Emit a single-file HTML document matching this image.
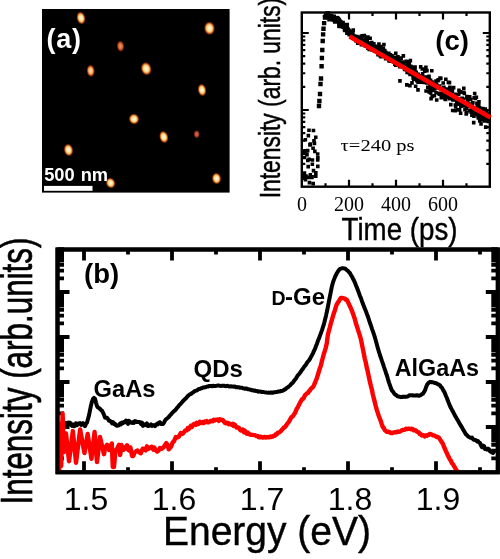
<!DOCTYPE html>
<html><head><meta charset="utf-8"><title>Figure</title>
<style>html,body{margin:0;padding:0;background:#fff;overflow:hidden}svg{display:block}</style>
</head><body><svg width="500" height="559" viewBox="0 0 500 559"><defs><radialGradient id="sb" cx="0.5" cy="0.5" r="0.5"><stop offset="0" stop-color="#fff8dc" stop-opacity="1"/><stop offset="0.3" stop-color="#ffeab0" stop-opacity="1"/><stop offset="0.5" stop-color="#fcc878" stop-opacity="1"/><stop offset="0.64" stop-color="#e08030" stop-opacity="1"/><stop offset="0.78" stop-color="#963a0c" stop-opacity="0.9"/><stop offset="0.9" stop-color="#481200" stop-opacity="0.55"/><stop offset="1" stop-color="#200000" stop-opacity="0"/></radialGradient><radialGradient id="sm" cx="0.5" cy="0.5" r="0.5"><stop offset="0" stop-color="#ffdcb0" stop-opacity="1"/><stop offset="0.3" stop-color="#f8c080" stop-opacity="1"/><stop offset="0.5" stop-color="#f0a058" stop-opacity="1"/><stop offset="0.64" stop-color="#c85c1c" stop-opacity="1"/><stop offset="0.78" stop-color="#7a2808" stop-opacity="0.9"/><stop offset="0.9" stop-color="#3a0e00" stop-opacity="0.55"/><stop offset="1" stop-color="#200000" stop-opacity="0"/></radialGradient><radialGradient id="sd" cx="0.5" cy="0.5" r="0.5"><stop offset="0" stop-color="#f49468" stop-opacity="1"/><stop offset="0.3" stop-color="#e27a4a" stop-opacity="1"/><stop offset="0.5" stop-color="#d06434" stop-opacity="1"/><stop offset="0.64" stop-color="#a8401a" stop-opacity="1"/><stop offset="0.78" stop-color="#70200a" stop-opacity="0.9"/><stop offset="0.9" stop-color="#380c00" stop-opacity="0.55"/><stop offset="1" stop-color="#100000" stop-opacity="0"/></radialGradient><radialGradient id="sv" cx="0.5" cy="0.5" r="0.5"><stop offset="0" stop-color="#d46848" stop-opacity="1"/><stop offset="0.3" stop-color="#c85c3c" stop-opacity="1"/><stop offset="0.5" stop-color="#b04a2c" stop-opacity="1"/><stop offset="0.64" stop-color="#883018" stop-opacity="1"/><stop offset="0.78" stop-color="#581808" stop-opacity="0.9"/><stop offset="0.9" stop-color="#2a0800" stop-opacity="0.55"/><stop offset="1" stop-color="#100000" stop-opacity="0"/></radialGradient></defs><rect x="42" y="9" width="187.6" height="183.6" fill="#000"/><ellipse cx="81" cy="18" rx="4.76" ry="7" transform="rotate(-12 81 18)" fill="url(#sb)"/><ellipse cx="120.5" cy="46.2" rx="4.03" ry="6.05" transform="rotate(-5 120.5 46.2)" fill="url(#sd)"/><ellipse cx="90.7" cy="70.8" rx="4.48" ry="6.72" transform="rotate(-5 90.7 70.8)" fill="url(#sm)"/><ellipse cx="209.5" cy="28.3" rx="5.88" ry="7.28" transform="rotate(-5 209.5 28.3)" fill="url(#sb)"/><ellipse cx="146.2" cy="68.7" rx="5.71" ry="7.28" transform="rotate(-15 146.2 68.7)" fill="url(#sb)"/><ellipse cx="202" cy="90" rx="4.59" ry="6.83" transform="rotate(-10 202 90)" fill="url(#sb)"/><ellipse cx="134" cy="119" rx="5.6" ry="5.88" transform="rotate(-25 134 119)" fill="url(#sb)"/><ellipse cx="68.5" cy="150" rx="5.04" ry="6.83" transform="rotate(-12 68.5 150)" fill="url(#sb)"/><ellipse cx="110.6" cy="183" rx="5.04" ry="5.88" transform="rotate(-25 110.6 183)" fill="url(#sb)"/><ellipse cx="163.8" cy="137" rx="4.82" ry="6.83" transform="rotate(-15 163.8 137)" fill="url(#sb)"/><ellipse cx="196.7" cy="134.2" rx="3.36" ry="4.48" transform="rotate(0 196.7 134.2)" fill="url(#sv)"/><ellipse cx="216.5" cy="178.5" rx="5.04" ry="6.27" transform="rotate(-8 216.5 178.5)" fill="url(#sb)"/><text x="46.6" y="47.8" font-family="Liberation Sans, Arial, sans-serif" font-weight="bold" font-size="27" letter-spacing="0.7" fill="#fff">(a)</text><text x="44.2" y="180.6" font-family="Liberation Sans, Arial, sans-serif" font-weight="bold" font-size="18.3" fill="#fff">500<tspan dx="6">nm</tspan></text><rect x="44" y="185.9" width="48.5" height="4.9" fill="#fff"/><path d="M325.5 186.7v-3.5M325.5 12.5v3.5M349 186.7v-7M349 12.5v7M372.5 186.7v-3.5M372.5 12.5v3.5M396 186.7v-7M396 12.5v7M419.5 186.7v-3.5M419.5 12.5v3.5M443 186.7v-7M443 12.5v7M466.5 186.7v-3.5M466.5 12.5v3.5M301.8 163.82h3.5M489.8 163.82h-3.5M301.8 150.26h3.5M489.8 150.26h-3.5M301.8 140.64h3.5M489.8 140.64h-3.5M301.8 133.18h3.5M489.8 133.18h-3.5M301.8 127.08h3.5M489.8 127.08h-3.5M301.8 121.93h3.5M489.8 121.93h-3.5M301.8 117.46h3.5M489.8 117.46h-3.5M301.8 113.52h3.5M489.8 113.52h-3.5M301.8 110h7M489.8 110h-7M301.8 86.82h3.5M489.8 86.82h-3.5M301.8 73.26h3.5M489.8 73.26h-3.5M301.8 63.64h3.5M489.8 63.64h-3.5M301.8 56.18h3.5M489.8 56.18h-3.5M301.8 50.08h3.5M489.8 50.08h-3.5M301.8 44.93h3.5M489.8 44.93h-3.5M301.8 40.46h3.5M489.8 40.46h-3.5M301.8 36.52h3.5M489.8 36.52h-3.5M301.8 33h7M489.8 33h-7" stroke="#000" stroke-width="2.2" fill="none"/><rect x="301.8" y="12.5" width="188" height="174.2" fill="none" stroke="#000" stroke-width="2.4"/><path d="M306.56 133.8h3.6v3.6h-3.6zM302.79 155.75h3.6v3.6h-3.6zM307.19 128.51h3.6v3.6h-3.6zM302.26 149.92h3.6v3.6h-3.6zM302.75 176.31h3.6v3.6h-3.6zM303.56 137.92h3.6v3.6h-3.6zM315.92 158.09h3.6v3.6h-3.6zM307.65 180.85h3.6v3.6h-3.6zM302.4 174.13h3.6v3.6h-3.6zM306.04 158.69h3.6v3.6h-3.6zM313.94 135.5h3.6v3.6h-3.6zM311.28 146.43h3.6v3.6h-3.6zM302.64 171.33h3.6v3.6h-3.6zM308.11 143.11h3.6v3.6h-3.6zM308.5 142.29h3.6v3.6h-3.6zM312.18 139.11h3.6v3.6h-3.6zM309.58 175.08h3.6v3.6h-3.6zM312.64 141.61h3.6v3.6h-3.6zM303.47 149.03h3.6v3.6h-3.6zM313.06 149.53h3.6v3.6h-3.6zM311.72 168.78h3.6v3.6h-3.6zM310.3 175.1h3.6v3.6h-3.6zM306.41 164.83h3.6v3.6h-3.6zM310.62 158.25h3.6v3.6h-3.6zM308.54 173.08h3.6v3.6h-3.6zM315.87 152.22h3.6v3.6h-3.6zM311.66 128.66h3.6v3.6h-3.6zM311.41 181.81h3.6v3.6h-3.6zM314.03 170.93h3.6v3.6h-3.6zM302.04 151.52h3.6v3.6h-3.6zM304.22 174.32h3.6v3.6h-3.6zM303.64 177.83h3.6v3.6h-3.6zM302.91 150.8h3.6v3.6h-3.6zM309.94 175.55h3.6v3.6h-3.6zM313.99 174.45h3.6v3.6h-3.6zM305.88 148.87h3.6v3.6h-3.6zM307.08 175.6h3.6v3.6h-3.6zM316.07 156.09h3.6v3.6h-3.6zM305.2 152.84h3.6v3.6h-3.6zM310.54 162.44h3.6v3.6h-3.6zM307.24 157.48h3.6v3.6h-3.6zM316 164.56h3.6v3.6h-3.6zM350.21 30.08h3.6v3.6h-3.6zM349.84 30.33h3.6v3.6h-3.6zM350.52 33.98h3.6v3.6h-3.6zM351.44 28.3h3.6v3.6h-3.6zM351.11 32.57h3.6v3.6h-3.6zM351.31 34.29h3.6v3.6h-3.6zM351.85 35.78h3.6v3.6h-3.6zM351.93 34.87h3.6v3.6h-3.6zM352.07 34.19h3.6v3.6h-3.6zM352.92 34.73h3.6v3.6h-3.6zM352.88 34.31h3.6v3.6h-3.6zM353.5 35.16h3.6v3.6h-3.6zM354.29 36.49h3.6v3.6h-3.6zM354.08 36.91h3.6v3.6h-3.6zM354.09 38.98h3.6v3.6h-3.6zM355.59 39.47h3.6v3.6h-3.6zM355.17 34.74h3.6v3.6h-3.6zM354.88 35.97h3.6v3.6h-3.6zM356.07 35.97h3.6v3.6h-3.6zM355.93 41.43h3.6v3.6h-3.6zM355.82 39.56h3.6v3.6h-3.6zM356.92 36.01h3.6v3.6h-3.6zM357.23 40.25h3.6v3.6h-3.6zM357.58 37.57h3.6v3.6h-3.6zM358.49 36.89h3.6v3.6h-3.6zM358.09 35.61h3.6v3.6h-3.6zM357.93 38.04h3.6v3.6h-3.6zM359.42 34.87h3.6v3.6h-3.6zM359.06 38.99h3.6v3.6h-3.6zM359.59 43.02h3.6v3.6h-3.6zM360.48 40.46h3.6v3.6h-3.6zM360.39 34.05h3.6v3.6h-3.6zM359.98 36.22h3.6v3.6h-3.6zM360.82 39.03h3.6v3.6h-3.6zM360.82 38.93h3.6v3.6h-3.6zM361.35 41.38h3.6v3.6h-3.6zM362.57 33.83h3.6v3.6h-3.6zM362.59 41.97h3.6v3.6h-3.6zM362.56 38.62h3.6v3.6h-3.6zM362.98 41.91h3.6v3.6h-3.6zM362.96 41.55h3.6v3.6h-3.6zM363.52 44.13h3.6v3.6h-3.6zM364.47 37.08h3.6v3.6h-3.6zM364.44 41.55h3.6v3.6h-3.6zM363.87 37.84h3.6v3.6h-3.6zM365.43 36.51h3.6v3.6h-3.6zM365.4 39.91h3.6v3.6h-3.6zM365.43 41.85h3.6v3.6h-3.6zM366.07 44.5h3.6v3.6h-3.6zM366.12 35.2h3.6v3.6h-3.6zM366.12 46.38h3.6v3.6h-3.6zM366.94 41.31h3.6v3.6h-3.6zM366.9 46.26h3.6v3.6h-3.6zM367.45 47.65h3.6v3.6h-3.6zM367.92 46.94h3.6v3.6h-3.6zM368.33 36.44h3.6v3.6h-3.6zM368.08 41.94h3.6v3.6h-3.6zM368.81 43.47h3.6v3.6h-3.6zM369.58 41.91h3.6v3.6h-3.6zM369.55 41.16h3.6v3.6h-3.6zM370.15 48.11h3.6v3.6h-3.6zM369.97 40.72h3.6v3.6h-3.6zM370 43.94h3.6v3.6h-3.6zM371.27 47.07h3.6v3.6h-3.6zM371.01 43.77h3.6v3.6h-3.6zM371.53 45.79h3.6v3.6h-3.6zM372.08 42.05h3.6v3.6h-3.6zM372.52 46.61h3.6v3.6h-3.6zM372.14 48.53h3.6v3.6h-3.6zM373.23 44.57h3.6v3.6h-3.6zM373.22 49.24h3.6v3.6h-3.6zM372.95 46.58h3.6v3.6h-3.6zM373.8 47.33h3.6v3.6h-3.6zM374.18 45.14h3.6v3.6h-3.6zM374.38 44.44h3.6v3.6h-3.6zM375.21 46.49h3.6v3.6h-3.6zM375.24 47.66h3.6v3.6h-3.6zM375.25 46.06h3.6v3.6h-3.6zM376 47.12h3.6v3.6h-3.6zM376.21 52.78h3.6v3.6h-3.6zM376.25 48.34h3.6v3.6h-3.6zM377.15 42.23h3.6v3.6h-3.6zM377.29 45.1h3.6v3.6h-3.6zM377.35 48.4h3.6v3.6h-3.6zM378.16 45.9h3.6v3.6h-3.6zM378.55 48.42h3.6v3.6h-3.6zM378.36 53.98h3.6v3.6h-3.6zM379.01 44.87h3.6v3.6h-3.6zM379.25 54.83h3.6v3.6h-3.6zM378.91 47.75h3.6v3.6h-3.6zM379.9 49.2h3.6v3.6h-3.6zM379.99 50.65h3.6v3.6h-3.6zM379.86 47.8h3.6v3.6h-3.6zM381.52 46.39h3.6v3.6h-3.6zM380.92 49.93h3.6v3.6h-3.6zM380.91 46.67h3.6v3.6h-3.6zM382.51 53.4h3.6v3.6h-3.6zM382.56 50.99h3.6v3.6h-3.6zM382.12 42.63h3.6v3.6h-3.6zM383.47 52.68h3.6v3.6h-3.6zM382.93 48.79h3.6v3.6h-3.6zM383.07 53.44h3.6v3.6h-3.6zM383.96 50.6h3.6v3.6h-3.6zM383.82 56.8h3.6v3.6h-3.6zM384.24 52.03h3.6v3.6h-3.6zM385.07 53.33h3.6v3.6h-3.6zM385.3 52.06h3.6v3.6h-3.6zM385.59 53.05h3.6v3.6h-3.6zM386.43 55.06h3.6v3.6h-3.6zM386.01 53.46h3.6v3.6h-3.6zM385.83 54.13h3.6v3.6h-3.6zM386.9 51.98h3.6v3.6h-3.6zM387.14 58.9h3.6v3.6h-3.6zM387.01 51.4h3.6v3.6h-3.6zM387.92 58.21h3.6v3.6h-3.6zM388.36 52.99h3.6v3.6h-3.6zM387.87 59.07h3.6v3.6h-3.6zM389.14 57.03h3.6v3.6h-3.6zM388.86 59.32h3.6v3.6h-3.6zM389.44 53.84h3.6v3.6h-3.6zM389.87 56.69h3.6v3.6h-3.6zM390.49 55.14h3.6v3.6h-3.6zM390.16 54h3.6v3.6h-3.6zM391.54 59.79h3.6v3.6h-3.6zM391.01 59.09h3.6v3.6h-3.6zM390.99 59.23h3.6v3.6h-3.6zM391.89 57.66h3.6v3.6h-3.6zM391.96 57.97h3.6v3.6h-3.6zM392.05 55.45h3.6v3.6h-3.6zM393.03 62.5h3.6v3.6h-3.6zM393.2 58.94h3.6v3.6h-3.6zM392.81 60.22h3.6v3.6h-3.6zM394 63.36h3.6v3.6h-3.6zM394.24 58.91h3.6v3.6h-3.6zM393.95 51.39h3.6v3.6h-3.6zM394.89 60.27h3.6v3.6h-3.6zM395.46 55.82h3.6v3.6h-3.6zM395.47 60.62h3.6v3.6h-3.6zM396.11 55.01h3.6v3.6h-3.6zM396.59 59.62h3.6v3.6h-3.6zM396.07 62.26h3.6v3.6h-3.6zM397.31 56.15h3.6v3.6h-3.6zM397.12 59.9h3.6v3.6h-3.6zM396.9 61.39h3.6v3.6h-3.6zM397.86 61.07h3.6v3.6h-3.6zM397.93 58.71h3.6v3.6h-3.6zM397.87 64.78h3.6v3.6h-3.6zM399.34 56.29h3.6v3.6h-3.6zM399.03 62.04h3.6v3.6h-3.6zM399.17 64.66h3.6v3.6h-3.6zM399.93 60.13h3.6v3.6h-3.6zM400.57 63.48h3.6v3.6h-3.6zM400.58 60.19h3.6v3.6h-3.6zM401.57 62.55h3.6v3.6h-3.6zM401.05 63.2h3.6v3.6h-3.6zM401.11 63.42h3.6v3.6h-3.6zM402.18 61.67h3.6v3.6h-3.6zM402.2 63.95h3.6v3.6h-3.6zM401.8 63.86h3.6v3.6h-3.6zM403.12 66.21h3.6v3.6h-3.6zM402.83 67.65h3.6v3.6h-3.6zM402.99 65.11h3.6v3.6h-3.6zM404.27 59.54h3.6v3.6h-3.6zM404.33 64.3h3.6v3.6h-3.6zM404.37 67.95h3.6v3.6h-3.6zM405.06 63.6h3.6v3.6h-3.6zM405.59 69.51h3.6v3.6h-3.6zM405.31 70.76h3.6v3.6h-3.6zM405.84 70.73h3.6v3.6h-3.6zM406.3 60.12h3.6v3.6h-3.6zM406.39 67.54h3.6v3.6h-3.6zM407.22 65.59h3.6v3.6h-3.6zM407.2 70.89h3.6v3.6h-3.6zM407.46 61.68h3.6v3.6h-3.6zM408.27 72.63h3.6v3.6h-3.6zM408.35 64.6h3.6v3.6h-3.6zM407.98 70.14h3.6v3.6h-3.6zM409.09 69.26h3.6v3.6h-3.6zM408.88 71.37h3.6v3.6h-3.6zM409.3 64.67h3.6v3.6h-3.6zM410.3 67.66h3.6v3.6h-3.6zM409.8 65.49h3.6v3.6h-3.6zM410.44 69.51h3.6v3.6h-3.6zM411.23 65.61h3.6v3.6h-3.6zM411.33 76.12h3.6v3.6h-3.6zM411 72.84h3.6v3.6h-3.6zM411.86 70.32h3.6v3.6h-3.6zM411.96 77.35h3.6v3.6h-3.6zM412.39 75.54h3.6v3.6h-3.6zM413.11 70.93h3.6v3.6h-3.6zM413.18 68.86h3.6v3.6h-3.6zM413.29 65.36h3.6v3.6h-3.6zM414.31 74.38h3.6v3.6h-3.6zM414 73.42h3.6v3.6h-3.6zM414.39 70.57h3.6v3.6h-3.6zM414.81 78.08h3.6v3.6h-3.6zM414.85 72.31h3.6v3.6h-3.6zM415.35 79.16h3.6v3.6h-3.6zM416.34 72.45h3.6v3.6h-3.6zM416.17 78.61h3.6v3.6h-3.6zM416.17 80.24h3.6v3.6h-3.6zM416.96 80.5h3.6v3.6h-3.6zM417.58 75.16h3.6v3.6h-3.6zM417.17 74.12h3.6v3.6h-3.6zM418.46 79.71h3.6v3.6h-3.6zM418.01 74.19h3.6v3.6h-3.6zM417.97 77.9h3.6v3.6h-3.6zM419.27 74.71h3.6v3.6h-3.6zM418.91 65.12h3.6v3.6h-3.6zM418.91 74.1h3.6v3.6h-3.6zM420.46 67.15h3.6v3.6h-3.6zM420.36 75.8h3.6v3.6h-3.6zM419.99 80.36h3.6v3.6h-3.6zM420.82 73.82h3.6v3.6h-3.6zM420.8 72.04h3.6v3.6h-3.6zM421.04 77.15h3.6v3.6h-3.6zM421.91 75.3h3.6v3.6h-3.6zM422.47 80.73h3.6v3.6h-3.6zM421.8 77.52h3.6v3.6h-3.6zM422.9 69.39h3.6v3.6h-3.6zM423.54 75.82h3.6v3.6h-3.6zM423.03 68.55h3.6v3.6h-3.6zM424.1 65.49h3.6v3.6h-3.6zM424.27 89.16h3.6v3.6h-3.6zM424.09 75.35h3.6v3.6h-3.6zM424.84 80.88h3.6v3.6h-3.6zM424.88 81.18h3.6v3.6h-3.6zM425.55 75.97h3.6v3.6h-3.6zM426 79.29h3.6v3.6h-3.6zM425.95 85.43h3.6v3.6h-3.6zM426.1 89.23h3.6v3.6h-3.6zM427.45 77.75h3.6v3.6h-3.6zM427.3 90.09h3.6v3.6h-3.6zM427.24 74.59h3.6v3.6h-3.6zM428.38 88.44h3.6v3.6h-3.6zM428.16 83.4h3.6v3.6h-3.6zM428.4 78.6h3.6v3.6h-3.6zM428.84 78.48h3.6v3.6h-3.6zM429.54 85.42h3.6v3.6h-3.6zM429.07 85.53h3.6v3.6h-3.6zM430.04 81.28h3.6v3.6h-3.6zM430.01 68.92h3.6v3.6h-3.6zM430.32 80.25h3.6v3.6h-3.6zM431.12 88.73h3.6v3.6h-3.6zM430.93 84.55h3.6v3.6h-3.6zM431.52 85.63h3.6v3.6h-3.6zM432.2 85.39h3.6v3.6h-3.6zM432.6 93.93h3.6v3.6h-3.6zM432.16 85.44h3.6v3.6h-3.6zM432.87 86.47h3.6v3.6h-3.6zM433.07 87.06h3.6v3.6h-3.6zM433.01 85.96h3.6v3.6h-3.6zM434.26 90.88h3.6v3.6h-3.6zM434.13 79.15h3.6v3.6h-3.6zM434.13 79.75h3.6v3.6h-3.6zM435.07 84.41h3.6v3.6h-3.6zM434.85 82.88h3.6v3.6h-3.6zM434.9 98.14h3.6v3.6h-3.6zM436.2 78.81h3.6v3.6h-3.6zM435.97 78.39h3.6v3.6h-3.6zM436.02 85.79h3.6v3.6h-3.6zM437.16 91.48h3.6v3.6h-3.6zM437.56 92.35h3.6v3.6h-3.6zM436.82 77.9h3.6v3.6h-3.6zM437.83 84.17h3.6v3.6h-3.6zM438.18 76.36h3.6v3.6h-3.6zM438.27 92.04h3.6v3.6h-3.6zM439.54 87.52h3.6v3.6h-3.6zM439.46 96.02h3.6v3.6h-3.6zM439 76.6h3.6v3.6h-3.6zM439.89 91.67h3.6v3.6h-3.6zM440.35 93.31h3.6v3.6h-3.6zM440.55 86.77h3.6v3.6h-3.6zM441.41 81.25h3.6v3.6h-3.6zM441.17 87.28h3.6v3.6h-3.6zM441.43 88.22h3.6v3.6h-3.6zM441.99 95.92h3.6v3.6h-3.6zM442.04 85.62h3.6v3.6h-3.6zM441.9 89.2h3.6v3.6h-3.6zM443.36 97.41h3.6v3.6h-3.6zM442.89 95.71h3.6v3.6h-3.6zM443.27 92.63h3.6v3.6h-3.6zM444.11 91.65h3.6v3.6h-3.6zM443.81 97.59h3.6v3.6h-3.6zM444.04 77.39h3.6v3.6h-3.6zM445.32 94.36h3.6v3.6h-3.6zM445.51 87.17h3.6v3.6h-3.6zM445 91.66h3.6v3.6h-3.6zM446.57 90.34h3.6v3.6h-3.6zM445.82 87.2h3.6v3.6h-3.6zM446.2 89.06h3.6v3.6h-3.6zM447.01 87.18h3.6v3.6h-3.6zM447.33 95.7h3.6v3.6h-3.6zM446.83 90.46h3.6v3.6h-3.6zM448.07 85.55h3.6v3.6h-3.6zM447.96 96.78h3.6v3.6h-3.6zM448.44 92.38h3.6v3.6h-3.6zM448.96 86.9h3.6v3.6h-3.6zM449.58 89.56h3.6v3.6h-3.6zM448.98 102.84h3.6v3.6h-3.6zM449.98 94.3h3.6v3.6h-3.6zM450.56 89.38h3.6v3.6h-3.6zM450.2 95.51h3.6v3.6h-3.6zM451.13 98.24h3.6v3.6h-3.6zM451.33 97.56h3.6v3.6h-3.6zM451.11 93.6h3.6v3.6h-3.6zM451.97 98.24h3.6v3.6h-3.6zM451.84 94.68h3.6v3.6h-3.6zM451.85 85.8h3.6v3.6h-3.6zM453.51 103.25h3.6v3.6h-3.6zM453.39 108.81h3.6v3.6h-3.6zM453.06 95.57h3.6v3.6h-3.6zM453.95 104.99h3.6v3.6h-3.6zM453.83 92.68h3.6v3.6h-3.6zM454.33 92.39h3.6v3.6h-3.6zM455.07 100.76h3.6v3.6h-3.6zM454.94 101.57h3.6v3.6h-3.6zM455.08 97.03h3.6v3.6h-3.6zM456.56 108.09h3.6v3.6h-3.6zM455.97 107.92h3.6v3.6h-3.6zM456.09 102.17h3.6v3.6h-3.6zM457.15 88.48h3.6v3.6h-3.6zM456.84 92.64h3.6v3.6h-3.6zM457.54 99.05h3.6v3.6h-3.6zM457.95 90.58h3.6v3.6h-3.6zM457.82 108.03h3.6v3.6h-3.6zM458.13 102.47h3.6v3.6h-3.6zM458.83 90.1h3.6v3.6h-3.6zM458.83 111.42h3.6v3.6h-3.6zM459.01 104.33h3.6v3.6h-3.6zM460.4 104.19h3.6v3.6h-3.6zM460.02 96.72h3.6v3.6h-3.6zM460.57 96.5h3.6v3.6h-3.6zM461.37 97.4h3.6v3.6h-3.6zM461.05 100.41h3.6v3.6h-3.6zM461.4 100.99h3.6v3.6h-3.6zM462.53 91.61h3.6v3.6h-3.6zM461.82 90.48h3.6v3.6h-3.6zM461.99 86.39h3.6v3.6h-3.6zM463.56 103.99h3.6v3.6h-3.6zM463.11 101.63h3.6v3.6h-3.6zM463.19 107.99h3.6v3.6h-3.6zM464.54 106.68h3.6v3.6h-3.6zM464.39 112.12h3.6v3.6h-3.6zM464.46 103.43h3.6v3.6h-3.6zM465.06 94.68h3.6v3.6h-3.6zM465.06 96.04h3.6v3.6h-3.6zM464.86 110.89h3.6v3.6h-3.6zM465.96 103.52h3.6v3.6h-3.6zM465.85 98.86h3.6v3.6h-3.6zM465.83 98.34h3.6v3.6h-3.6zM467.58 102.27h3.6v3.6h-3.6zM467.51 108.8h3.6v3.6h-3.6zM466.87 103.66h3.6v3.6h-3.6zM467.88 94.97h3.6v3.6h-3.6zM468.16 104.71h3.6v3.6h-3.6zM467.99 97.22h3.6v3.6h-3.6zM469.34 109.49h3.6v3.6h-3.6zM469.4 110.42h3.6v3.6h-3.6zM468.9 97.73h3.6v3.6h-3.6zM470.47 103.62h3.6v3.6h-3.6zM470.1 113.52h3.6v3.6h-3.6zM470.39 107.26h3.6v3.6h-3.6zM471 110.85h3.6v3.6h-3.6zM470.92 112.5h3.6v3.6h-3.6zM471.06 100.94h3.6v3.6h-3.6zM472.12 114.42h3.6v3.6h-3.6zM471.99 106.62h3.6v3.6h-3.6zM472.45 96h3.6v3.6h-3.6zM472.88 91.7h3.6v3.6h-3.6zM473.18 112.64h3.6v3.6h-3.6zM473.53 96.61h3.6v3.6h-3.6zM473.83 107.29h3.6v3.6h-3.6zM473.95 111.23h3.6v3.6h-3.6zM474.58 95.49h3.6v3.6h-3.6zM475.1 101.41h3.6v3.6h-3.6zM475.49 104.06h3.6v3.6h-3.6zM475.42 110.3h3.6v3.6h-3.6zM476.56 116.12h3.6v3.6h-3.6zM476.3 114.65h3.6v3.6h-3.6zM475.97 106.94h3.6v3.6h-3.6zM476.96 112.53h3.6v3.6h-3.6zM477 102.35h3.6v3.6h-3.6zM476.96 104.46h3.6v3.6h-3.6zM477.81 105.97h3.6v3.6h-3.6zM477.95 119.13h3.6v3.6h-3.6zM478.05 113.84h3.6v3.6h-3.6zM479.24 122.19h3.6v3.6h-3.6zM478.85 116.35h3.6v3.6h-3.6zM479.24 114.98h3.6v3.6h-3.6zM480.31 114.98h3.6v3.6h-3.6zM480.36 113.81h3.6v3.6h-3.6zM480.13 110.53h3.6v3.6h-3.6zM481.56 117.79h3.6v3.6h-3.6zM481.05 106.64h3.6v3.6h-3.6zM481.13 109.78h3.6v3.6h-3.6zM482.49 119.15h3.6v3.6h-3.6zM481.96 112.74h3.6v3.6h-3.6zM482.38 113.08h3.6v3.6h-3.6zM483.52 114.15h3.6v3.6h-3.6zM483.14 116.36h3.6v3.6h-3.6zM483.51 107.34h3.6v3.6h-3.6zM484.17 114.66h3.6v3.6h-3.6zM484.24 115.04h3.6v3.6h-3.6zM484.31 116.48h3.6v3.6h-3.6zM485.3 113.09h3.6v3.6h-3.6zM485.1 110.88h3.6v3.6h-3.6zM485.03 114.54h3.6v3.6h-3.6zM486.22 118.12h3.6v3.6h-3.6zM486.19 113.78h3.6v3.6h-3.6zM486.44 119.6h3.6v3.6h-3.6zM404.98 83.11h3.6v3.6h-3.6zM483.93 125.33h3.6v3.6h-3.6zM398.16 79.07h3.6v3.6h-3.6zM429.27 96.83h3.6v3.6h-3.6zM450.89 108.71h3.6v3.6h-3.6zM408.11 83.81h3.6v3.6h-3.6zM413.85 84.45h3.6v3.6h-3.6zM471.91 120.84h3.6v3.6h-3.6zM410.22 81.05h3.6v3.6h-3.6zM430.38 94.76h3.6v3.6h-3.6zM428.87 91.13h3.6v3.6h-3.6zM416.18 88.03h3.6v3.6h-3.6zM477.16 99.94h3.6v3.6h-3.6zM447.69 80.82h3.6v3.6h-3.6zM401.56 54.03h3.6v3.6h-3.6zM408.56 58.78h3.6v3.6h-3.6zM446.6 80.59h3.6v3.6h-3.6zM425.15 68.86h3.6v3.6h-3.6z" fill="#000"/><path d="M316.8 103.8h4.4v4.4h-4.4zM317.2 98.8h4.4v4.4h-4.4zM317.8 91.8h4.4v4.4h-4.4zM318.3 81.8h4.4v4.4h-4.4zM318.8 76.3h4.4v4.4h-4.4zM319.4 64.1h4.4v4.4h-4.4zM319.7 55.8h4.4v4.4h-4.4zM320.1 47.8h4.4v4.4h-4.4zM320.5 38.8h4.4v4.4h-4.4zM320.9 32.2h4.4v4.4h-4.4zM321.3 26.6h4.4v4.4h-4.4zM321.9 20.9h4.4v4.4h-4.4zM322.8 15.3h4.4v4.4h-4.4zM323.8 13.4h4.4v4.4h-4.4zM323.97 13.28h4.4v4.4h-4.4zM324.12 13.43h4.4v4.4h-4.4zM325.68 10.96h4.4v4.4h-4.4zM326.04 14.23h4.4v4.4h-4.4zM327.27 17.14h4.4v4.4h-4.4zM328.36 15.01h4.4v4.4h-4.4zM329.16 16.11h4.4v4.4h-4.4zM329.01 13.7h4.4v4.4h-4.4zM331.66 14.44h4.4v4.4h-4.4zM331.68 17.37h4.4v4.4h-4.4zM332.88 18.76h4.4v4.4h-4.4zM332.96 19.43h4.4v4.4h-4.4zM336.36 19.38h4.4v4.4h-4.4zM334.91 19.33h4.4v4.4h-4.4zM337.56 23.96h4.4v4.4h-4.4zM337.07 23.3h4.4v4.4h-4.4zM340.79 24.42h4.4v4.4h-4.4zM340.43 20.66h4.4v4.4h-4.4zM342.76 24.24h4.4v4.4h-4.4zM342.71 27.21h4.4v4.4h-4.4zM343.13 27.82h4.4v4.4h-4.4zM344.66 22.76h4.4v4.4h-4.4zM345.5 29.59h4.4v4.4h-4.4zM345.12 30.58h4.4v4.4h-4.4zM347.35 32.01h4.4v4.4h-4.4zM347.09 29.82h4.4v4.4h-4.4z" fill="#000"/><path d="M324.6 18 L326 16.5 L328 16 L330 17 L332 18 L334 19.2 L336 19.5 L337.5 18.8 L339 21 L341 23 L343 25.5 L345 27 L347 29 L349 31.5 L351 33.5 L353 35" stroke="#000" stroke-width="6" fill="none" stroke-linejoin="round"/><line x1="349.6" y1="36.4" x2="490.5" y2="117.5" stroke="#f00" stroke-width="4.6"/><text x="435.3" y="50.2" font-family="Liberation Sans, Arial, sans-serif" font-weight="bold" font-size="27.5" fill="#000">(c)</text><text x="340.6" y="151.4" font-family="Liberation Serif, Times New Roman, serif" font-size="17" textLength="74" lengthAdjust="spacingAndGlyphs" fill="#000">&#964;=240 ps</text><text x="302" y="210.5" text-anchor="middle" font-family="Liberation Serif, Times New Roman, serif" font-size="20" fill="#000">0</text><text x="349" y="210.5" text-anchor="middle" font-family="Liberation Serif, Times New Roman, serif" font-size="20" fill="#000">200</text><text x="396" y="210.5" text-anchor="middle" font-family="Liberation Serif, Times New Roman, serif" font-size="20" fill="#000">400</text><text x="443" y="210.5" text-anchor="middle" font-family="Liberation Serif, Times New Roman, serif" font-size="20" fill="#000">600</text><text x="341.5" y="240.4" textLength="116" lengthAdjust="spacingAndGlyphs" font-family="Liberation Sans, Arial, sans-serif" font-size="30.5" stroke="#000" stroke-width="0.4" fill="#000">Time (ps)</text><text transform="translate(279.7 198.3) rotate(-90)" x="0" y="0" textLength="200.5" lengthAdjust="spacingAndGlyphs" font-family="Liberation Sans, Arial, sans-serif" font-size="29.5" stroke="#000" stroke-width="0.5" fill="#000">Intensity (arb. units)</text><path d="M84 472.3v-11M84 249.5v11M128 472.3v-5M128 249.5v5M172 472.3v-11M172 249.5v11M216 472.3v-5M216 249.5v5M260 472.3v-11M260 249.5v11M304 472.3v-5M304 249.5v5M348 472.3v-11M348 249.5v11M392 472.3v-5M392 249.5v5M436 472.3v-11M436 249.5v11M480 472.3v-5M480 249.5v5M57.5 458.45h6.5M497.8 458.45h-6.5M57.5 450.53h6.5M497.8 450.53h-6.5M57.5 444.91h6.5M497.8 444.91h-6.5M57.5 440.55h6.5M497.8 440.55h-6.5M57.5 436.98h6.5M497.8 436.98h-6.5M57.5 433.97h6.5M497.8 433.97h-6.5M57.5 431.36h6.5M497.8 431.36h-6.5M57.5 429.06h6.5M497.8 429.06h-6.5M57.5 427h12M497.8 427h-12M57.5 413.45h6.5M497.8 413.45h-6.5M57.5 405.53h6.5M497.8 405.53h-6.5M57.5 399.91h6.5M497.8 399.91h-6.5M57.5 395.55h6.5M497.8 395.55h-6.5M57.5 391.98h6.5M497.8 391.98h-6.5M57.5 388.97h6.5M497.8 388.97h-6.5M57.5 386.36h6.5M497.8 386.36h-6.5M57.5 384.06h6.5M497.8 384.06h-6.5M57.5 382h12M497.8 382h-12M57.5 368.45h6.5M497.8 368.45h-6.5M57.5 360.53h6.5M497.8 360.53h-6.5M57.5 354.91h6.5M497.8 354.91h-6.5M57.5 350.55h6.5M497.8 350.55h-6.5M57.5 346.98h6.5M497.8 346.98h-6.5M57.5 343.97h6.5M497.8 343.97h-6.5M57.5 341.36h6.5M497.8 341.36h-6.5M57.5 339.06h6.5M497.8 339.06h-6.5M57.5 337h12M497.8 337h-12M57.5 323.45h6.5M497.8 323.45h-6.5M57.5 315.53h6.5M497.8 315.53h-6.5M57.5 309.91h6.5M497.8 309.91h-6.5M57.5 305.55h6.5M497.8 305.55h-6.5M57.5 301.98h6.5M497.8 301.98h-6.5M57.5 298.97h6.5M497.8 298.97h-6.5M57.5 296.36h6.5M497.8 296.36h-6.5M57.5 294.06h6.5M497.8 294.06h-6.5M57.5 292h12M497.8 292h-12M57.5 278.45h6.5M497.8 278.45h-6.5M57.5 270.53h6.5M497.8 270.53h-6.5M57.5 264.91h6.5M497.8 264.91h-6.5M57.5 260.55h6.5M497.8 260.55h-6.5M57.5 256.98h6.5M497.8 256.98h-6.5M57.5 253.97h6.5M497.8 253.97h-6.5M57.5 251.36h6.5M497.8 251.36h-6.5M57.5 249.06h6.5M497.8 249.06h-6.5" stroke="#000" stroke-width="3.8" fill="none"/><rect x="57.5" y="249.5" width="440.3" height="222.8" fill="none" stroke="#000" stroke-width="4"/><defs><clipPath id="cb"><rect x="57.5" y="249.5" width="440.3" height="222.8"/></clipPath></defs><g clip-path="url(#cb)"><path d="M60 425.72 L61 426.26 L62 424.26 L63 425.07 L64 426.6 L65 426.48 L66 422.97 L67 423.25 L68 422.53 L69 424.29 L70 422.62 L71 424.69 L72 425.76 L73 424.33 L74 426.23 L75 425.9 L76 423.26 L77 425.28 L78 423.53 L79 423.83 L80 423.05 L81 424.92 L82 424.06 L83 423.1 L84 425.05 L85 426.14 L86 423.65 L87 422.57 L88 419.01 L89 415.35 L90 410.38 L91 405.44 L92 401.61 L93 398.89 L94 397.9 L95 398.81 L96 402.61 L97 406.07 L98 407.5 L99 408.01 L100 408.87 L101 410.07 L102 410.66 L103 412.6 L104 414.79 L105 417.66 L106 417.75 L107 417.74 L108 418.97 L109 420.84 L110 420.82 L111 421.54 L112 423.36 L113 422.1 L114 424.03 L115 423.84 L116 425.43 L117 425.7 L118 425.46 L119 425.23 L120 423.57 L121 424.3 L122 422.62 L123 423.28 L124 422.05 L125 422.31 L126 420.57 L127 421.11 L128 423.89 L129 420.82 L130 422.62 L131 422.47 L132 422.86 L133 422.04 L134 422.82 L135 421.03 L136 421.35 L137 422.08 L138 422.08 L139 422.05 L140 422.3 L141 424.1 L142 422.73 L143 425.86 L144 424.85 L145 424.35 L146 425.08 L147 423.36 L148 426.06 L149 425.76 L150 425.35 L151 424.4 L152 425.87 L153 425.49 L154 425.14 L155 426.11 L156 424.92 L157 423.73 L158 424.29 L159 422.6 L160 422.27 L161 424.04 L162 423.81 L163 423.95 L164 422.72 L165 420.51 L166 419.3 L167 418.53 L168 417.76 L169 416.62 L170 415.4 L171 414.36 L172 413.21 L173 412.18 L174 411.09 L175 410.54 L176 409.32 L177 407.91 L178 406.91 L179 405.5 L180 404.39 L181 403.52 L182 402.33 L183 401.14 L184 399.93 L185 399.1 L186 398.27 L187 397 L188 395.88 L189 395.04 L190 394.26 L191 394.03 L192 393.06 L193 392.56 L194 391.52 L195 390.99 L196 390.7 L197 390.33 L198 389.53 L199 388.93 L200 389 L201 388.28 L202 388.19 L203 387.51 L204 387.52 L205 387.32 L206 387 L207 386.56 L208 386.59 L209 386.09 L210 386.06 L211 386.01 L212 386.19 L213 385.67 L214 386.04 L215 385.94 L216 386.01 L217 385.62 L218 385.51 L219 385.52 L220 385.88 L221 385.98 L222 385.84 L223 385.75 L224 385.69 L225 386.08 L226 386.18 L227 385.79 L228 385.96 L229 386.42 L230 386.53 L231 386.31 L232 386.39 L233 386.58 L234 386.75 L235 386.6 L236 387.16 L237 387.11 L238 387.39 L239 387.21 L240 387.81 L241 387.86 L242 387.8 L243 388.37 L244 388.43 L245 388.74 L246 388.48 L247 388.72 L248 389.36 L249 389.32 L250 389.66 L251 389.66 L252 390.37 L253 390.31 L254 390.73 L255 390.5 L256 390.97 L257 390.94 L258 391.64 L259 391.57 L260 391.52 L261 391.68 L262 392.09 L263 391.94 L264 392.12 L265 392.38 L266 392.51 L267 392.63 L268 392.71 L269 392.6 L270 392.76 L271 392.46 L272 392.48 L273 392.72 L274 392.24 L275 392.17 L276 392.05 L277 392.04 L278 391.58 L279 391.38 L280 391.39 L281 390.92 L282 390.88 L283 390.53 L284 389.91 L285 389.41 L286 388.59 L287 387.68 L288 387.14 L289 386.26 L290 385.5 L291 384.27 L292 383.32 L293 382.53 L294 380.92 L295 379.62 L296 378.49 L297 376.65 L298 375.19 L299 374.2 L300 372.8 L301 371.5 L302 369.83 L303 368.7 L304 367.07 L305 365.79 L306 364.64 L307 362.82 L308 361.49 L309 360.39 L310 358.81 L311 356.84 L312 355.17 L313 353.11 L314 350.85 L315 348.81 L316 345.98 L317 343.72 L318 340.53 L319 338.38 L320 335.64 L321 332.82 L322 330.1 L323 326.95 L324 323.89 L325 319.77 L326 315.66 L327 311.1 L328 306.26 L329 300.9 L330 295.85 L331 290.84 L332 285.91 L333 282.22 L334 279.64 L335 276.95 L336 274.99 L337 272.94 L338 271.32 L339 269.95 L340 268.93 L341 268.68 L342 268.2 L343 268.17 L344 268.39 L345 268.42 L346 269.45 L347 270.22 L348 270.97 L349 272.17 L350 273.24 L351 275.16 L352 276.55 L353 278.71 L354 280.57 L355 282.74 L356 285.4 L357 287.81 L358 290.49 L359 293.17 L360 295.99 L361 298.25 L362 301.38 L363 304.05 L364 306.61 L365 308.96 L366 311.42 L367 314.22 L368 316.83 L369 319.9 L370 323.07 L371 325.75 L372 328.92 L373 331.64 L374 334.65 L375 337.7 L376 341.26 L377 344.93 L378 348.7 L379 352.02 L380 355.23 L381 357.99 L382 361.17 L383 363.84 L384 367.05 L385 369.93 L386 372.97 L387 375.76 L388 379.31 L389 382.58 L390 385.41 L391 388.34 L392 390.65 L393 391.73 L394 393.22 L395 394.53 L396 394.94 L397 396 L398 396.35 L399 396.73 L400 396.8 L401 397.14 L402 396.83 L403 396.98 L404 396.64 L405 396.89 L406 396.63 L407 396.68 L408 396.33 L409 395.53 L410 395.24 L411 395.16 L412 395.17 L413 395.51 L414 395.45 L415 395.51 L416 395.53 L417 395.29 L418 395.52 L419 395.79 L420 395.46 L421 394.95 L422 394.15 L423 393.7 L424 392.15 L425 390.32 L426 387.33 L427 384.95 L428 383.42 L429 382.48 L430 381.88 L431 382.18 L432 381.97 L433 382.42 L434 382.69 L435 383.04 L436 383.15 L437 383.56 L438 384.32 L439 384.7 L440 385.37 L441 386.92 L442 387.76 L443 389.92 L444 391.41 L445 393.49 L446 396.04 L447 398.24 L448 401.06 L449 403.42 L450 406 L451 408.01 L452 409.9 L453 411.62 L454 413.69 L455 415.61 L456 417.28 L457 419.16 L458 420.66 L459 422.49 L460 424.16 L461 425.88 L462 427.59 L463 429.38 L464 431.03 L465 432.74 L466 434.4 L467 435.21 L468 436.27 L469 437.05 L470 437.54 L471 437.9 L472 437.58 L473 439.07 L474 439.83 L475 440.01 L476 440.17 L477 441.35 L478 440.99 L479 442.52 L480 442.91 L481 445.41 L482 447.2 L483 445.51 L484 445.96 L485 449.05 L486 448.51 L487 449.57 L488 448.63 L489 449.41 L490 451.42 L491 451.46 L492 452.54 L493 453.1 L494 451.32 L495 452.27" stroke="#000" stroke-width="4" fill="none" stroke-linejoin="round"/><path d="M56.3 428 L57.2 469 L58.2 423 L59.2 470 L60.2 425 L61.2 466 L62.6 413.5 L64 452 L66 433.54 L69.01 461.33 L72.84 431.07 L76.03 462.69 L80.11 429.51 L84.47 453.03 L87.66 434.02 L91.46 458.71 L94.57 431.91 L97 462 L99.98 436.98 L103.98 454.2 L105.18 447.58 L107.16 444.72 L108.94 449.9 L110.28 448.6 L111.78 443.39 L112.78 467 L113.95 467 L115.48 450.61 L117.27 448.27 L119.05 444.85 L120.15 455 L121.44 444.86 L122.88 449.75 L123.91 449.77 L125.19 447.49 L127.14 445.33 L128.06 449.68 L129.45 450.61 L130.37 447.4 L132.15 456 L133.26 456 L134.56 452.64 L136.51 451.05 L137.5 450.6 L139.13 452.38 L140.8 453.18 L142.77 448.71 L143.91 448.69 L145.7 450.38 L146.9 446.35 L148.06 449.04 L149.85 447.94 L151.76 446.7 L153.38 449.68 L154.4 447.65 L155.57 449.97 L157.07 451.65 L158.43 450.72 L159.91 447.99 L161.63 448.77 L163.62 447.19 L164.87 445.33 L166.3 443.18 L167.53 444.9 L168.78 449.27 L170.8 447.07 L171.8 444.73 L172.8 442.09 L173.8 441.56 L174.8 439.3 L175.8 437.09 L176.8 437.56 L177.8 437.44 L178.8 436.54 L179.8 435 L180.8 432.93 L181.8 434.06 L182.8 433.63 L183.8 432.43 L184.8 430.98 L185.8 430.16 L186.8 430.34 L187.8 428.12 L188.8 429.04 L189.8 427.64 L190.8 425.91 L191.8 427.03 L192.8 425.35 L193.8 424.08 L194.8 423.72 L195.8 424.91 L196.8 422.87 L197.8 423.99 L198.8 423.75 L199.8 421.78 L200.8 422.39 L201.8 423.03 L202.8 422.13 L203.8 422.89 L204.8 421.6 L205.8 422.09 L206.8 421 L207.8 422.42 L208.8 422.32 L209.8 421.57 L210.8 420.88 L211.8 420.8 L212.8 421.22 L213.8 419.88 L214.8 420.54 L215.8 419.79 L216.8 419.71 L217.8 419.56 L218.8 420.8 L219.8 419.36 L220.8 419.76 L221.8 419.92 L222.8 419.96 L223.8 421.36 L224.8 422.77 L225.8 423.29 L226.8 422.65 L227.8 422.85 L228.8 424.27 L229.8 423.81 L230.8 424.22 L231.8 424.82 L232.8 423.83 L233.8 426.04 L234.8 424.7 L235.8 426.18 L236.8 427.66 L237.8 427.44 L238.8 427.75 L239.8 429.41 L240.8 430.46 L241.8 430.38 L242.8 429.63 L243.8 432.17 L244.8 430.64 L245.8 432.74 L246.8 433.79 L247.8 432.5 L248.8 433.81 L249.8 434.6 L250.8 434.69 L251.8 434.83 L252.8 434.88 L253.8 435.09 L254.8 435.09 L255.8 435.74 L256.8 436.14 L257.8 436.07 L258.8 437.14 L259.8 437.36 L260.8 436.66 L261.8 437.15 L262.8 437.56 L263.8 437.24 L264.8 436.98 L265.8 437.57 L266.8 437.16 L267.8 437.22 L268.8 437.32 L269.8 436.67 L270.8 437.04 L271.8 436.39 L272.8 436.65 L273.8 435.8 L274.8 435.7 L275.8 434.26 L276.8 434.32 L277.8 432.71 L278.8 432.65 L279.8 432.03 L280.8 431.19 L281.8 429.86 L282.8 428.94 L283.8 427.64 L284.8 427.25 L285.8 425.99 L286.8 424.42 L287.8 423 L288.8 422.03 L289.8 420.14 L290.8 418.2 L291.8 416.91 L292.8 416.39 L293.8 414.72 L294.8 413.2 L295.8 411.2 L296.8 408.63 L297.8 407.45 L298.8 405 L299.8 403.2 L300.8 401.36 L301.8 399.36 L302.8 398.98 L303.8 397.79 L304.8 395.52 L305.8 394.38 L306.8 393.59 L307.8 393.11 L308.8 391.32 L309.8 390.66 L310.8 388.88 L311.8 388.01 L312.8 387.23 L313.8 385.55 L314.8 383.11 L315.8 380.78 L316.8 378.16 L317.8 374.99 L318.8 371.73 L319.8 368.49 L320.8 365.73 L321.8 361.55 L322.8 357.78 L323.8 353.95 L324.8 350.92 L325.8 347.58 L326.8 343.18 L327.8 335.17 L328.8 330.97 L329.8 327.54 L330.8 323.4 L331.8 320.14 L332.8 316.65 L333.8 313.37 L334.8 310.5 L335.8 307.17 L336.8 304.14 L337.8 302.68 L338.8 301.25 L339.8 299.48 L340.8 297.97 L341.8 298.17 L342.8 298 L343.8 298.27 L344.8 298.54 L345.8 299.7 L346.8 299.9 L347.8 301.61 L348.8 303.83 L349.8 305.94 L350.8 308.07 L351.8 310.38 L352.8 313.29 L353.8 316.06 L354.8 318.98 L355.8 323.04 L356.8 326.06 L357.8 329.2 L358.8 332.39 L359.8 335.37 L360.8 338.85 L361.8 343.78 L362.8 348.66 L363.8 353.61 L364.8 358.79 L365.8 362.36 L366.8 367.83 L367.8 371.65 L368.8 376.67 L369.8 381.23 L370.8 385.59 L371.8 389.25 L372.8 394.23 L373.8 398.18 L374.8 402.09 L375.8 406.2 L376.8 409.93 L377.8 412.89 L378.8 415.95 L379.8 418.54 L380.8 421.1 L381.8 424.23 L382.8 427.09 L383.8 428 L384.8 430.07 L385.8 430.95 L386.8 431.79 L387.8 431.75 L388.8 432 L389.8 432.25 L390.8 433.04 L391.8 433.13 L392.8 433.08 L393.8 432.34 L394.8 432.31 L395.8 432.01 L396.8 432.26 L397.8 431.47 L398.8 431.82 L399.8 431.63 L400.8 431.04 L401.8 430.26 L402.8 429.97 L403.8 429.91 L404.8 429.7 L405.8 428.67 L406.8 428.88 L407.8 428.97 L408.8 428.68 L409.8 428.94 L410.8 429.23 L411.8 428.72 L412.8 429.05 L413.8 430.35 L414.8 430.25 L415.8 430.43 L416.8 431.58 L417.8 432.04 L418.8 432.39 L419.8 433.99 L420.8 434.2 L421.8 435.47 L422.8 435.2 L423.8 435.41 L424.8 436.5 L425.8 435.56 L426.8 435.9 L427.8 434.92 L428.8 434.79 L429.8 433.87 L430.8 434.05 L431.8 434.69 L432.8 435.25 L433.8 435.4 L434.8 435.9 L435.8 436.23 L436.8 437.07 L437.8 436.92 L438.8 437.69 L439.8 438.98 L440.8 440.78 L441.8 442.16 L442.8 443.74 L443.8 446.07 L444.8 448.57 L445.8 450.92 L446.8 452.98 L447.8 455.24 L448.8 457.23 L449.8 459.28 L450.8 460.5 L451.8 462.94 L452.8 464.01 L453.8 465.75 L454.8 467.34 L455.8 469.25 L456.8 470.59 L457.8 471.51 L458.8 472.68 L459.8 473.62" stroke="#f00" stroke-width="4.4" fill="none" stroke-linejoin="round"/></g><path d="M57.5 249.5V472.3H497.8V249.5Z" fill="none" stroke="#000" stroke-width="4"/><text x="84" y="283" font-family="Liberation Sans, Arial, sans-serif" font-weight="bold" font-size="27.5">(b)</text><text x="93.6" y="396.6" font-family="Liberation Sans, Arial, sans-serif" font-weight="bold" font-size="23.7">GaAs</text><text x="193.6" y="376.6" font-family="Liberation Sans, Arial, sans-serif" font-weight="bold" font-size="24">QDs</text><text x="271.5" y="305.3" font-family="Liberation Sans, Arial, sans-serif" font-weight="bold" font-size="19.5">D<tspan font-size="24" dx="-0.5">-Ge</tspan></text><text x="394.8" y="376.4" font-family="Liberation Sans, Arial, sans-serif" font-weight="bold" font-size="23.3">AlGaAs</text><text x="86" y="509.7" text-anchor="middle" font-family="Liberation Sans, Arial, sans-serif" font-size="32">1.5</text><text x="174" y="509.7" text-anchor="middle" font-family="Liberation Sans, Arial, sans-serif" font-size="32">1.6</text><text x="262" y="509.7" text-anchor="middle" font-family="Liberation Sans, Arial, sans-serif" font-size="32">1.7</text><text x="350" y="509.7" text-anchor="middle" font-family="Liberation Sans, Arial, sans-serif" font-size="32">1.8</text><text x="438" y="509.7" text-anchor="middle" font-family="Liberation Sans, Arial, sans-serif" font-size="32">1.9</text><text x="163" y="545.3" textLength="208" lengthAdjust="spacingAndGlyphs" font-family="Liberation Sans, Arial, sans-serif" font-size="40" stroke="#000" stroke-width="0.4">Energy (eV)</text><text transform="translate(31.5 504.5) rotate(-90)" textLength="267" lengthAdjust="spacingAndGlyphs" font-family="Liberation Sans, Arial, sans-serif" font-size="44" stroke="#000" stroke-width="0.7">Intensity (arb.units)</text></svg></body></html>
